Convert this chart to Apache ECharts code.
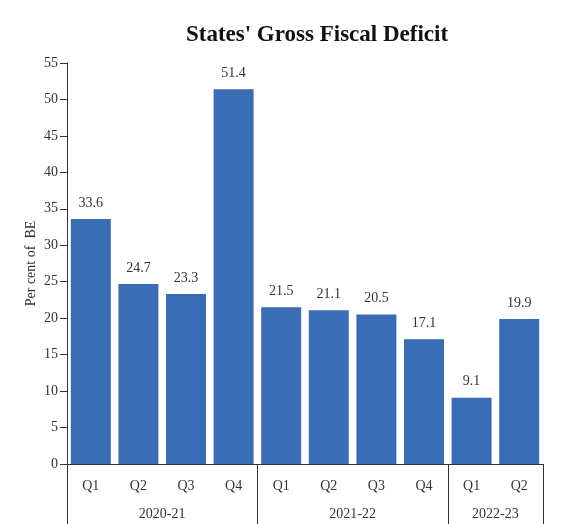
<!DOCTYPE html>
<html>
<head>
<meta charset="utf-8">
<script src="https://cdn.jsdelivr.net/npm/echarts@6/dist/echarts.min.js"></script>
<style>
  html, body { margin: 0; padding: 0; background: #fff; }
  #chart { width: 565px; height: 524px; }
</style>
</head>
<body>
<div id="chart"></div>
<script>
// quarters on the lower axis, fiscal years grouped below them
const quarters = ['Q1', 'Q2', 'Q3', 'Q4', 'Q1', 'Q2', 'Q3', 'Q4', 'Q1', 'Q2'];
const deficit = [33.6, 24.7, 23.3, 51.4, 21.5, 21.1, 20.5, 17.1, 9.1, 19.9];
const years = ['2020-21', '2021-22', '2022-23'];
const yearCentres = [2, 6, 9];
const yearEdges = [0, 4, 8, 10];

const font = 'Liberation Serif';
const ink = '#333';

const chart = echarts.init(document.getElementById('chart'));

chart.setOption({
    animation: false,
    title: {
        text: "States' Gross Fiscal Deficit",
        left: 312,
        textAlign: 'center',
        top: 19,
        textStyle: { fontFamily: font, fontSize: 23, fontWeight: 'bold', color: '#111' }
    },
    grid: { left: 67, right: 22, top: 63, bottom: 60 },
    xAxis: [
        {
            type: 'category',
            data: quarters,
            axisLine: { lineStyle: { color: ink } },
            axisTick: { length: 6, interval: 0, lineStyle: { color: ink } },
            axisLabel: { interval: 0, margin: 15, fontFamily: font, fontSize: 14, color: ink }
        },
        {
            type: 'value',
            position: 'bottom',
            min: 0,
            max: 10,
            axisLine: { show: false },
            splitLine: { show: false },
            axisTick: { customValues: yearEdges, length: 60, lineStyle: { color: ink } },
            axisLabel: {
                customValues: yearCentres,
                margin: 43,
                fontFamily: font,
                fontSize: 14,
                color: ink,
                formatter: function (v) {
                    return years[yearCentres.indexOf(v)];
                }
            }
        }
    ],
    yAxis: {
        type: 'value',
        min: 0,
        max: 55,
        interval: 5,
        name: 'Per cent of  BE',
        nameLocation: 'middle',
        nameGap: 29,
        nameMoveOverlap: false,
        nameTextStyle: { fontFamily: font, fontSize: 14, color: ink },
        axisLine: { show: true, lineStyle: { color: ink } },
        axisTick: { show: true, length: 7, lineStyle: { color: ink } },
        axisLabel: { margin: 9, fontFamily: font, fontSize: 14, color: ink },
        splitLine: { show: false }
    },
    series: [
        {
            type: 'bar',
            data: deficit,
            xAxisIndex: 0,
            barCategoryGap: '16%',
            itemStyle: { color: '#3a6db5' },
            label: {
                show: true,
                position: 'top',
                distance: 9,
                fontFamily: font,
                fontSize: 14,
                color: ink
            }
        }
    ]
});
</script>
</body>
</html>
